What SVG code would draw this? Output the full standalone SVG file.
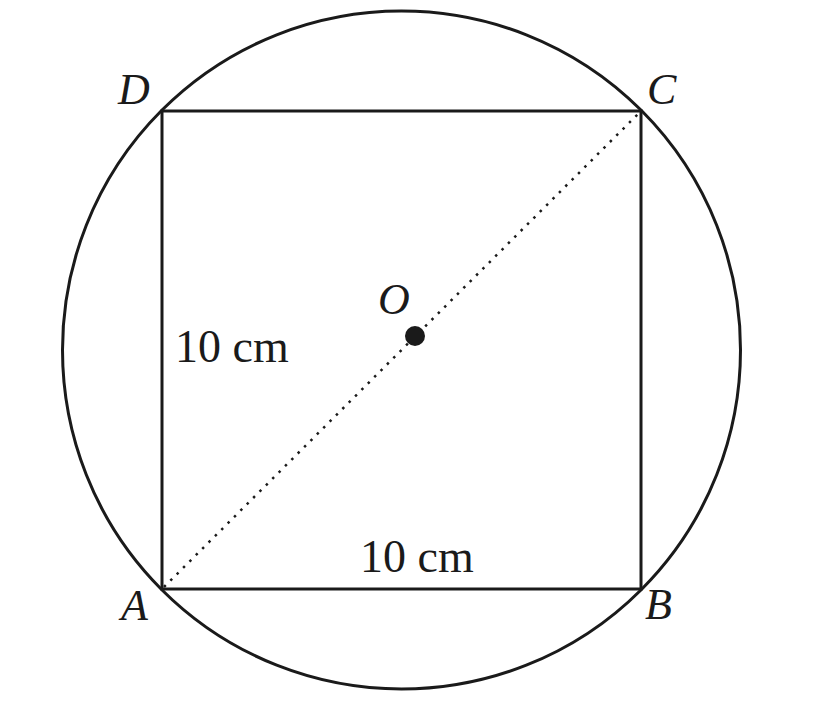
<svg xmlns="http://www.w3.org/2000/svg" width="832" height="710" viewBox="0 0 832 710">
<style>
.ln{fill:none;stroke:#1a1a1a;stroke-width:3}
.lbl{font-family:"Liberation Serif","DejaVu Serif",serif;font-style:italic;font-size:44px;fill:#1a1a1a}
.dim{font-family:"Liberation Serif","DejaVu Serif",serif;font-size:46px;fill:#1a1a1a}
</style>
<rect width="832" height="710" fill="#fff"/>
<g id="circle"><circle class="ln" cx="401.5" cy="350" r="339"/></g>
<g id="square"><rect class="ln" x="162" y="111" width="479" height="478"/></g>
<g id="connectors"><line x1="164" y1="587" x2="639" y2="113" stroke="#1a1a1a" stroke-width="2.5" stroke-dasharray="2.5 6.5"/></g>
<g id="O"><circle cx="415" cy="336" r="10" fill="#1a1a1a"/><text class="lbl" x="378" y="314">O</text></g>
<g id="labels">
<text class="lbl" x="118" y="104">D</text>
<text class="lbl" x="647" y="104">C</text>
<text class="lbl" x="121" y="620">A</text>
<text class="lbl" x="645" y="619">B</text>
<text class="dim" x="175" y="362">10 cm</text>
<text class="dim" x="360" y="572">10 cm</text>
</g>
</svg>
